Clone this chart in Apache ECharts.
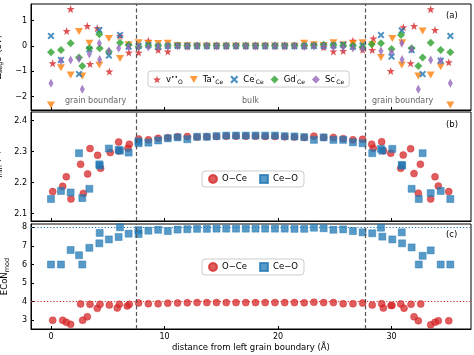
<!DOCTYPE html>
<html>
<head>
<meta charset="utf-8">
<script src="https://cdn.jsdelivr.net/npm/echarts@6/dist/echarts.min.js"></script>
<style>
  html, body { margin: 0; padding: 0; background: #fff; }
  #chart { width: 474px; height: 355px; }
</style>
</head>
<body>
<div id="chart"></div>
<script>
// atom plane positions in the bulk (Å)
const bulkX = [7.72, 8.58, 9.44, 10.29, 11.15, 12.01, 12.87, 13.73, 14.58, 15.44, 16.30, 17.16,
  18.02, 18.87, 19.73, 20.59, 21.45, 22.31, 23.16, 24.02, 24.88, 25.74, 26.60, 27.45];
const xTicks = [0, 10, 20, 30];
const gbLines = [7.5, 27.65];

// (a) segregation energies
const vOEdge = [[0.15, -0.68], [1.38, 0.59], [1.73, 1.46], [3.2, 0.79], [3.44, -0.71], [4.08, 0.70],
  [5.14, -1.01], [6.08, 0.40], [6.86, -0.26], [28.3, -0.16], [28.4, 0.30], [29.93, -0.99],
  [31.04, 0.74], [31.68, -0.68], [31.98, 0.79], [33.45, 1.45], [33.83, 0.63], [35.04, -0.64]];
const vOBulk = [-0.26, 0.21, -0.16, -0.22, 0.02, -0.02, 0.01, 0.02, -0.01, 0.0, 0.01, 0.0,
  -0.01, 0.01, 0.0, -0.01, 0.02, 0.0, 0.05, -0.05, -0.22, -0.2, 0.21, -0.15];
const taEdge = [[0, -2.33], [0.88, -0.86], [1.73, -1.15], [2.47, 0.57], [2.76, -1.19], [3.38, 0.11],
  [4.26, -0.75], [5.1, 0.30], [6.08, -0.49], [6.84, 0.05], [28.3, 0.05], [29.07, -0.45],
  [30.07, 0.30], [30.9, -0.75], [30.95, 0.13], [32.36, -1.19], [32.74, 0.59], [33.45, -1.15],
  [34.33, -0.82], [35.18, -2.33]];
const taBulk = [0.13, 0.10, 0.10, 0.11, 0.02, 0.01, 0, 0, 0, 0, 0, 0,
  0, 0, 0, 0, 0, 0.11, 0.05, 0.02, 0.13, 0.05, 0.10, 0.13];
const ceEdge = [[0, 0.40], [0.88, -0.55], [2.47, -1.11], [3.38, -0.13], [4.26, 0.63], [5.1, -0.38],
  [6.08, 0.43], [6.84, -0.03], [29.07, 0.43], [30.0, -0.42], [30.9, 0.61], [31.77, -0.16],
  [32.74, -1.11], [34.33, -0.58], [35.18, 0.40]];
const ceBulk = [0.0, 0.03, -0.02, 0.0, 0.01, 0, 0, 0, 0, 0, 0, 0,
  0, 0, 0, 0, 0, 0, 0, 0, 0.02, 0.05, -0.03, 0.02];
const gdEdge = [[0, -0.25], [0.88, -0.16], [1.73, 0.11], [2.47, -0.45], [2.76, -0.79], [3.38, -0.09],
  [4.26, 0.46], [4.29, -0.09], [5.1, -0.22], [6.08, 0.13], [6.84, 0.04], [28.25, 0.07],
  [29.07, 0.11], [30.0, -0.12], [30.84, 0.43], [31.77, -0.09], [32.36, -0.79], [32.74, -0.45],
  [33.45, 0.13], [34.33, -0.16], [35.18, -0.25]];
const gdBulk = [-0.03, 0.02, 0.0, 0.01, 0.02, 0.01, 0.01, 0.01, 0.01, 0.01, 0.01, 0.01,
  0.01, 0.01, 0.01, 0.01, 0.01, 0.01, 0.02, 0.05, 0.03, 0.02, 0.0, -0.04];
const scEdge = [[0, -1.47], [0.88, -0.58], [1.73, -0.55], [2.47, -0.50], [2.76, -1.71], [3.38, -0.32],
  [4.26, 0.11], [4.29, -0.53], [5.1, -0.20], [5.96, -0.09], [6.84, -0.03], [29.07, -0.20],
  [30.0, -0.25], [30.9, 0.11], [30.93, -0.53], [31.77, -0.13], [32.36, -1.71], [33.45, -0.55],
  [34.33, -0.58], [35.18, -1.47]];
const scBulk = [-0.03, -0.04, -0.02, -0.01, 0, 0, 0, 0, 0, 0, 0, 0,
  0, 0, 0, 0, 0, -0.02, -0.01, 0, -0.04, -0.05, -0.08, -0.1];

// (b) d_min
const dOCeEdge = [[0.15, 2.171], [1.03, 2.188], [1.35, 2.219], [1.76, 2.147], [2.61, 2.259], [2.85, 2.165],
  [3.23, 2.228], [3.44, 2.310], [4.11, 2.288], [4.37, 2.246], [5.22, 2.297], [5.96, 2.331],
  [5.99, 2.302], [6.78, 2.311], [6.9, 2.324], [28.25, 2.324], [28.39, 2.311], [29.13, 2.332],
  [29.28, 2.303], [29.93, 2.295], [30.81, 2.246], [31.03, 2.289], [31.68, 2.309], [31.98, 2.229],
  [32.36, 2.166], [32.54, 2.259], [33.45, 2.147], [33.83, 2.219], [34.12, 2.189], [35.04, 2.171]];
const dOCeBulk = [2.341, 2.338, 2.343, 2.345, 2.348, 2.349, 2.347, 2.348, 2.349, 2.350, 2.350, 2.350,
  2.350, 2.349, 2.349, 2.348, 2.347, 2.346, 2.350, 2.346, 2.346, 2.342, 2.338, 2.340];
const dCeOEdge = [[0, 2.147], [0.88, 2.173], [1.73, 2.168], [2.47, 2.295], [2.76, 2.150], [3.38, 2.180],
  [4.26, 2.259], [4.29, 2.255], [5.1, 2.310], [5.96, 2.306], [6.08, 2.303], [6.84, 2.297],
  [7.7, 2.333], [28.3, 2.295], [29.07, 2.309], [29.19, 2.303], [30.07, 2.309], [30.9, 2.257],
  [30.93, 2.255], [31.77, 2.180], [32.4, 2.147], [32.74, 2.295], [33.45, 2.166], [34.33, 2.173],
  [35.18, 2.147]];
const dCeOBulk = [2.327, 2.329, 2.336, 2.343, 2.346, 2.340, 2.348, 2.348, 2.350, 2.352, 2.352, 2.352,
  2.352, 2.352, 2.352, 2.350, 2.349, 2.347, 2.338, 2.346, 2.338, 2.338, 2.330, 2.327];

// (c) ECoN_mod
const eOCeEdge = [[0.15, 3.0], [1.03, 3.0], [1.35, 2.89], [1.73, 2.78], [2.61, 3.88], [2.79, 3.0],
  [3.2, 3.19], [3.44, 3.86], [4.08, 3.64], [4.32, 3.86], [5.14, 3.82], [5.84, 3.66],
  [6.02, 3.86], [6.72, 3.77], [6.9, 3.86], [28.3, 3.82], [29.13, 3.89], [29.28, 3.66],
  [29.96, 3.80], [30.04, 3.80], [30.81, 3.88], [31.1, 3.65], [31.72, 3.86], [31.98, 3.19],
  [32.36, 2.97], [32.57, 3.88], [33.45, 2.76], [33.83, 2.89], [34.12, 2.97], [35.04, 2.97]];
const eOCeBulk = [3.93, 3.89, 3.89, 3.92, 3.93, 3.94, 3.95, 3.95, 3.95, 3.95, 3.95, 3.95,
  3.95, 3.95, 3.95, 3.95, 3.95, 3.94, 3.97, 3.95, 3.95, 3.89, 3.89, 3.93];
const eCeOEdge = [[0, 6.0], [0.88, 6.0], [1.73, 6.78], [2.47, 6.5], [2.76, 6.0], [3.38, 6.9],
  [4.26, 7.14], [4.29, 7.7], [5.1, 7.35], [5.96, 7.48], [6.08, 8.0], [6.84, 7.66],
  [7.7, 7.85], [28.3, 7.68], [29.07, 7.98], [29.19, 7.5], [30.07, 7.35], [30.9, 7.73],
  [30.93, 7.14], [31.77, 6.92], [32.4, 6.0], [32.74, 6.47], [33.45, 6.76], [34.33, 6.0],
  [35.18, 6.0]];
const eCeOBulk = [7.64, 7.82, 7.87, 7.80, 7.88, 7.90, 7.92, 7.92, 7.93, 7.93, 7.93, 7.93,
  7.93, 7.93, 7.93, 7.93, 7.92, 7.92, 7.98, 7.95, 7.87, 7.89, 7.80, 7.73];
const econRefO = 4;
const econRefCe = 8;

const withBulk = (edge, bulk) => edge.concat(bulkX.map((x, i) => [x, bulk[i]]));

const RED = "#d62728", ORANGE = "#ff7f0e", BLUE = "#1f77b4", GREEN = "#2ca02c", PURPLE = "#9467bd";
const STAR = "path://M0,-10L2.35,-3.24L9.51,-3.09L3.8,1.24L5.88,8.09L0,4L-5.88,8.09L-3.8,1.24L-9.51,-3.09L-2.35,-3.24Z";
const TRI_DOWN = "path://M-10,-6L10,-6L0,11Z";
const XMARK = "path://M-10,-6L-6,-10L0,-4L6,-10L10,-6L4,0L10,6L6,10L0,4L-6,10L-10,6L-4,0Z";
const FONT = "DejaVu Sans";
const GB_STYLE = { color: "#555", type: [4, 2.5], width: 1.2 };

const gbMarkLine = {
  silent: true,
  symbol: "none",
  label: { show: false },
  lineStyle: GB_STYLE,
  data: gbLines.map((v) => ({ xAxis: v })),
};

function scatter(name, data, idx, symbol, size, color, extra) {
  return Object.assign({
    name: name,
    type: "scatter",
    xAxisIndex: idx,
    yAxisIndex: idx,
    data: data,
    symbol: symbol,
    symbolSize: size,
    itemStyle: { color: color, opacity: 0.8 },
    emphasis: { disabled: true },
  }, extra || {});
}

const xAxisBase = (idx, labels) => ({
  type: "value",
  gridIndex: idx,
  min: -1.76,
  max: 37.0,
  splitLine: { show: false },
  axisLine: { onZero: false, lineStyle: { color: "#000", width: 1 } },
  axisTick: { inside: true, length: 3, customValues: xTicks, lineStyle: { color: "#000" } },
  axisLabel: { show: labels, customValues: xTicks, color: "#000", fontSize: 8, fontFamily: FONT, margin: 4 },
});

const yAxisBase = (idx, min, max, ticks, name, fmt) => ({
  type: "value",
  gridIndex: idx,
  min: min,
  max: max,
  splitLine: { show: false },
  axisLine: { show: true, onZero: false, lineStyle: { color: "#000", width: 1 } },
  axisTick: { show: true, inside: true, length: 3, customValues: ticks, lineStyle: { color: "#000" } },
  axisLabel: { customValues: ticks, color: "#000", fontSize: 8, fontFamily: FONT, margin: 4, formatter: fmt },
  name: name,
  nameLocation: "middle",
  nameGap: 13,
  nameTextStyle: {
    color: "#000", fontSize: 8.5, fontFamily: FONT, lineHeight: 12,
    rich: {
      s: { fontSize: 6.5, fontFamily: FONT, verticalAlign: "bottom", lineHeight: 7, color: "#000" },
      i: { fontSize: 8.5, fontFamily: FONT, fontStyle: "italic", color: "#000", lineHeight: 12 },
      n: { fontSize: 8.5, fontFamily: FONT, color: "#000", lineHeight: 12 },
    },
  },
});

const legendRich = {
  n: { fontSize: 8.5, fontFamily: FONT, color: "#000", lineHeight: 11 },
  sub: { fontSize: 6, fontFamily: FONT, color: "#000", verticalAlign: "bottom", lineHeight: 6 },
  sup: { fontSize: 6, fontFamily: FONT, color: "#000", verticalAlign: "top", lineHeight: 6 },
};
const legendLabels = {
  vO: "{n|v}{sup|••}{sub|O}",
  TaCe: "{n|Ta}{sup|•}{sub|Ce}",
  CeCe: "{n|Ce}{sup|′}{sub|Ce}",
  GdCe: "{n|Gd}{sup|′}{sub|Ce}",
  ScCe: "{n|Sc}{sup|′}{sub|Ce}",
};

const legendBox = {
  orient: "horizontal",
  backgroundColor: "rgba(255,255,255,0.8)",
  borderColor: "#ccc",
  borderWidth: 1,
  borderRadius: 3,
  itemWidth: 8,
  itemHeight: 8,
  selectedMode: false,
};

const gridBase = { left: 31, right: 3, show: true, borderColor: "#000", borderWidth: 1, outerBoundsMode: "none", containLabel: false };

const chart = echarts.init(document.getElementById("chart"), null, { renderer: "canvas" });
chart.setOption({
  animation: false,
  backgroundColor: "#fff",
  textStyle: { fontFamily: FONT },
  grid: [
    Object.assign({ top: 4, height: 106 }, gridBase),
    Object.assign({ top: 112, height: 109 }, gridBase),
    Object.assign({ top: 224, height: 105 }, gridBase),
  ],
  xAxis: [
    xAxisBase(0, false),
    xAxisBase(1, false),
    Object.assign(xAxisBase(2, true), {
      name: "distance from left grain boundary (Å)",
      nameLocation: "middle",
      nameGap: 14,
      nameTextStyle: { color: "#000", fontSize: 8.5, fontFamily: FONT },
    }),
  ],
  yAxis: [
    yAxisBase(0, -2.53, 1.66, [-2, -1, 0, 1], "{n|Δ}{s|seg}{i|U}{n| (eV)}", (v) => String(v).replace("-", "−")),
    yAxisBase(1, 2.076, 2.428, [2.1, 2.2, 2.3, 2.4], "{i|d}{s|min}{n| (Å)}", (v) => v.toFixed(1)),
    yAxisBase(2, 2.53, 8.18, [3, 4, 5, 6, 7, 8], "{n|ECoN}{s|mod}", (v) => String(v)),
  ],
  legend: [
    Object.assign({}, legendBox, {
      left: 148, top: 71,
      padding: [3, 5, 2, 5],
      itemGap: 7,
      data: ["vO", "TaCe", "CeCe", "GdCe", "ScCe"],
      formatter: (name) => legendLabels[name],
      textStyle: { fontSize: 8.5, fontFamily: FONT, color: "#000", rich: legendRich },
    }),
    Object.assign({}, legendBox, {
      left: 202, top: 171,
      padding: [3, 6, 3, 6],
      itemGap: 12,
      data: ["O−Ce", "Ce−O"],
      textStyle: { fontSize: 8.5, fontFamily: FONT, color: "#000" },
    }),
    Object.assign({}, legendBox, {
      left: 202, top: 259,
      padding: [3, 6, 3, 6],
      itemGap: 12,
      data: ["O−Ce", "Ce−O"],
      textStyle: { fontSize: 8.5, fontFamily: FONT, color: "#000" },
    }),
  ],
  graphic: [
    { type: "text", left: 446, top: 11, style: { text: "(a)", font: "8.5px 'DejaVu Sans'", fill: "#000" } },
    { type: "text", left: 446, top: 120, style: { text: "(b)", font: "8.5px 'DejaVu Sans'", fill: "#000" } },
    { type: "text", left: 446, top: 230, style: { text: "(c)", font: "8.5px 'DejaVu Sans'", fill: "#000" } },
    { type: "text", left: 65, top: 97, style: { text: "grain boundary", font: "8px 'DejaVu Sans'", fill: "#666" } },
    { type: "text", left: 372, top: 97, style: { text: "grain boundary", font: "8px 'DejaVu Sans'", fill: "#666" } },
    { type: "text", left: 242, top: 97, style: { text: "bulk", font: "8px 'DejaVu Sans'", fill: "#666" } },
  ],
  series: [
    scatter("vO", withBulk(vOEdge, vOBulk), 0, STAR, [8, 8], RED, { markLine: gbMarkLine }),
    scatter("TaCe", withBulk(taEdge, taBulk), 0, TRI_DOWN, [8, 7], ORANGE),
    scatter("CeCe", withBulk(ceEdge, ceBulk), 0, XMARK, [7, 7], BLUE),
    scatter("GdCe", withBulk(gdEdge, gdBulk), 0, "diamond", [8, 8], GREEN),
    scatter("ScCe", withBulk(scEdge, scBulk), 0, "diamond", [5, 9], PURPLE),

    scatter("O−Ce", withBulk(dOCeEdge, dOCeBulk), 1, "circle", 7, RED,
      { itemStyle: { color: RED, opacity: 0.75, borderColor: RED, borderWidth: 0.6 }, markLine: gbMarkLine }),
    scatter("Ce−O", withBulk(dCeOEdge, dCeOBulk), 1, "rect", 7, BLUE,
      { itemStyle: { color: BLUE, opacity: 0.75, borderColor: BLUE, borderWidth: 0.6 } }),

    scatter("O−Ce", withBulk(eOCeEdge, eOCeBulk), 2, "circle", 7, RED, {
      itemStyle: { color: RED, opacity: 0.75, borderColor: RED, borderWidth: 0.6 },
      markLine: {
        silent: true, symbol: "none", label: { show: false },
        data: [
          { xAxis: gbLines[0], lineStyle: GB_STYLE },
          { xAxis: gbLines[1], lineStyle: GB_STYLE },
          { yAxis: econRefO, lineStyle: { color: RED, type: [1.2, 2], width: 1.2 } },
          { yAxis: econRefCe, lineStyle: { color: BLUE, type: [1.2, 2], width: 1.2 } },
        ],
      },
    }),
    scatter("Ce−O", withBulk(eCeOEdge, eCeOBulk), 2, "rect", 7, BLUE,
      { itemStyle: { color: BLUE, opacity: 0.75, borderColor: BLUE, borderWidth: 0.6 } }),
  ],
});
</script>
</body>
</html>
